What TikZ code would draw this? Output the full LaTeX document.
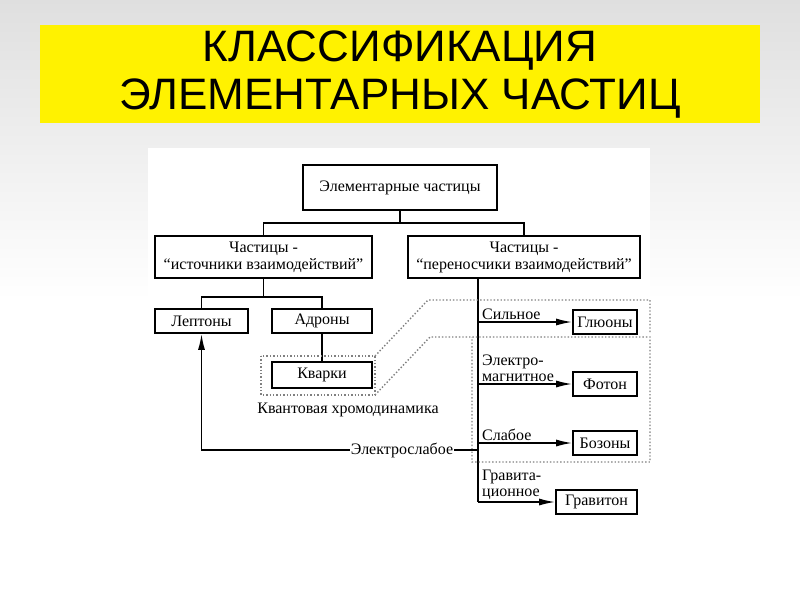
\documentclass[tikz,border=0pt]{standalone}
\usepackage{fontspec}
\setmainfont{Liberation Serif}
\newfontfamily\titlefont{Liberation Sans}
\usetikzlibrary{arrows.meta}
\begin{document}
\begin{tikzpicture}[x=1pt,y=-1pt,
        box/.style={rectangle, draw, line width=1.6pt, inner sep=0pt, font=\fontsize{16}{17}\selectfont, align=center},
        lbl/.style={font=\fontsize{16}{16}\selectfont, align=left, inner sep=1pt},
        link/.style={line width=1.6pt},
        arr/.style={line width=1.6pt, -{Latex[length=16pt,width=7pt]}},
        dots/.style={line width=1.4pt, dotted, gray}
    ]
        \shade[top color=gray!25, bottom color=white, middle color=white] (0,0) rectangle (800,600);
        \fill[yellow] (40,25) rectangle (760,123);
        \node[font=\titlefont\fontsize{44}{48}\selectfont, align=center] (title) at (400,75) {КЛАССИФИКАЦИЯ\\ЭЛЕМЕНТАРНЫХ ЧАСТИЦ};
        \fill[white] (148,148) rectangle (650,525);

        % boxes
        \node[box, minimum width=194pt, minimum height=45pt] (top) at (400,187.5) {Элементарные частицы};
        \node[box, minimum width=217pt, minimum height=42pt] (src) at (263.5,257) {Частицы -\\“источники взаимодействий”};
        \node[box, minimum width=232pt, minimum height=42pt] (car) at (524,257) {Частицы -\\“переносчики взаимодействий”};
        \node[box, minimum width=93pt, minimum height=24pt] (lep) at (201.5,321) {Лептоны};
        \node[box, minimum width=100pt, minimum height=24pt] (had) at (322,321) {Адроны};
        \node[box, minimum width=100pt, minimum height=26pt] (qrk) at (322,375) {Кварки};
        \node[box, minimum width=64pt, minimum height=24pt] (glu) at (605,322) {Глюоны};
        \node[box, minimum width=64pt, minimum height=24pt] (pho) at (605,384) {Фотон};
        \node[box, minimum width=64pt, minimum height=24pt] (bos) at (605,443) {Бозоны};
        \node[box, minimum width=81pt, minimum height=24pt] (grv) at (596.5,502) {Гравитон};

        % tree
        \draw[link] (top.south) -- ++(0,12) -| (src.north);
        \draw[link] (top.south) ++(0,12) -| (car.north);
        \draw[link] (src.south) -- ++(0,18) -| (lep.north);
        \draw[link] (src.south) ++(0,18) -| (had.north);
        \draw[link] (had) -- (qrk);
        \coordinate (trunk) at (478,278);
        \draw[link] (trunk) -- (478,502);
        \draw[arr] (478,322) -- (glu.west);
        \draw[arr] (478,384) -- (pho.west);
        \draw[arr] (478,443) -- (bos.west);
        \draw[arr] (478,502) -- (grv.west);
        \node[lbl, anchor=south west] (s1) at (481,321) {Сильное};
        \node[lbl, anchor=south west] (s2) at (481,383) {Электро-\\магнитное};
        \node[lbl, anchor=south west] (s3) at (481,442) {Слабое};
        \node[lbl, anchor=south west] (s4) at (481,501) {Гравита-\\ционное};

        % dotted regions
        \draw[dots] (261,356) rectangle (375,395);
        \draw[dots] (375,356) -- (428,300) -- (650,300) -- (650,334);
        \draw[dots] (375,395) -- (430,337) -- (650,337) -- (650,462) -- (472,462) -- (472,337);
        \node[lbl] (qcd) at (348,410) {Квантовая хромодинамика};

        % electroweak
        \node[lbl, fill=white] (ew) at (402,450) {Электрослабое};
        \draw[link] (ew.east) -- (478,450);
        \draw[arr] (ew.west) -| (lep.south);
\end{tikzpicture}
\end{document}
